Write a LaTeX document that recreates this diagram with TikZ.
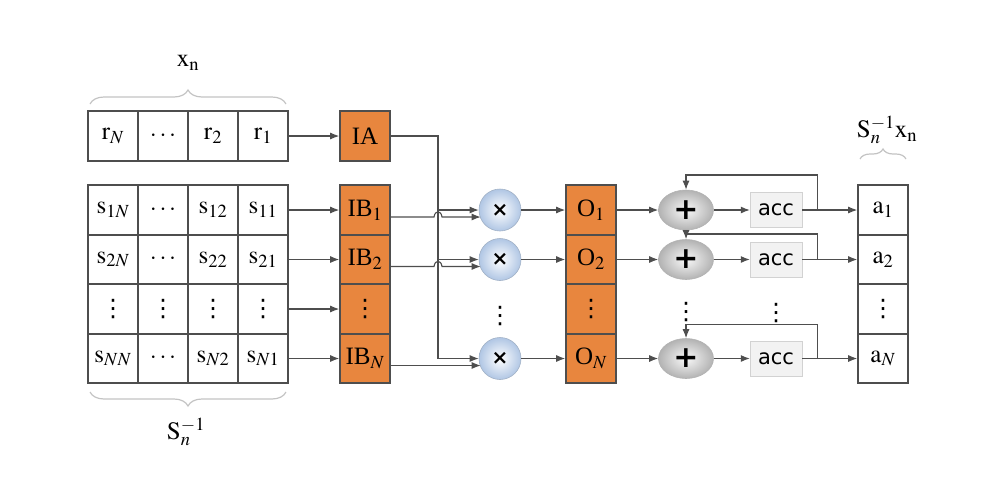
\documentclass[tikz,border=0pt]{standalone}
\usepackage{mathptmx}
\usepackage{fontspec}
\setmainfont{Liberation Serif}
\newfontfamily\accfont{DejaVu Sans}
\usetikzlibrary{calc}
\usetikzlibrary{shapes}
\usetikzlibrary{arrows.meta}
\usetikzlibrary{decorations.pathreplacing}
\definecolor{bufforange}{RGB}{232,134,62}
\definecolor{wiregray}{RGB}{78,78,78}
\definecolor{bracegray}{RGB}{195,195,195}
\definecolor{multblue}{RGB}{176,198,228}
\newcommand{\bigfont}{\fontsize{25}{30}\selectfont}
\newcommand{\gcell}[4]{ \node[gridcell] (#1) at (#2,#3) {#4};}
\newcommand{\bcell}[4]{ \node[buffcell] (#1) at (#2,#3) {#4};}
\newcommand{\vd}{{\accfont\fontsize{24}{24}\selectfont ⋮}}

\tikzset{
  gridcell/.style={draw=wiregray, line width=1.6pt, fill=white, minimum width=50pt,
    minimum height=49.5pt, inner sep=0pt, font=\bigfont},
  buffcell/.style={gridcell, fill=bufforange},
  multnode/.style={circle, minimum size=42pt, inner sep=0pt, draw=multblue!70!gray,
    line width=0.6pt, inner color=white, outer color=multblue,
    font=\accfont\fontsize{20}{24}\selectfont\bfseries},
  addnode/.style={ellipse, minimum width=55pt, minimum height=40pt, inner sep=0pt,
    draw=gray!60, line width=0.6pt, inner color=gray!5, outer color=gray!60,
    font=\accfont\fontsize{30}{30}\selectfont\bfseries},
  accnode/.style={rectangle, minimum width=52pt, minimum height=35pt, inner sep=0pt,
    draw=gray!35, fill=gray!10, font=\accfont\fontsize{21}{24}\selectfont},
  wire/.style={draw=wiregray, line width=1.1pt},
  flow/.style={wire, -{Latex[length=9pt,width=7pt]}},
  capbrace/.style={draw=bracegray, line width=1.2pt, decorate,
    decoration={brace, amplitude=14pt}},
  toplabel/.style={font=\bigfont, inner sep=0pt}
}

\begin{document}
\begin{tikzpicture}[x=1pt,y=-1pt]
    \useasboundingbox (0,0) rectangle (996,498);

    % input vector
    \gcell{rN}{113}{136}{$\mathrm{r}_N$}
    \gcell{rdots}{163}{136}{$\cdots$}
    \gcell{r2}{213}{136}{$\mathrm{r}_2$}
    \gcell{r1}{263}{136}{$\mathrm{r}_1$}

    % matrix, row 1
    \gcell{s1N}{113}{210}{$\mathrm{s}_{1N}$}
    \gcell{s1d}{163}{210}{$\cdots$}
    \gcell{s12}{213}{210}{$\mathrm{s}_{12}$}
    \gcell{s11}{263}{210}{$\mathrm{s}_{11}$}
    % row 2
    \gcell{s2N}{113}{259.5}{$\mathrm{s}_{2N}$}
    \gcell{s2d}{163}{259.5}{$\cdots$}
    \gcell{s22}{213}{259.5}{$\mathrm{s}_{22}$}
    \gcell{s21}{263}{259.5}{$\mathrm{s}_{21}$}
    % row dots
    \gcell{sdN}{113}{309}{\vd}
    \gcell{sdd}{163}{309}{\vd}
    \gcell{sd2}{213}{309}{\vd}
    \gcell{sd1}{263}{309}{\vd}
    % row N
    \gcell{sNN}{113}{358.5}{$\mathrm{s}_{NN}$}
    \gcell{sNd}{163}{358.5}{$\cdots$}
    \gcell{sN2}{213}{358.5}{$\mathrm{s}_{N2}$}
    \gcell{sN1}{263}{358.5}{$\mathrm{s}_{N1}$}

    % braces
    \draw[capbrace] (90,104) -- (286,104);
    \node[toplabel] (xlab) at (188,63) {$\mathrm{x}_\mathrm{n}$};
    \draw[capbrace] (286,392) -- (90,392);
    \node[toplabel] (slab) at (186,432) {$\mathrm{S}_n^{-1}$};

    % input buffers
    \bcell{IA}{365}{136}{IA}
    \bcell{IB1}{365}{210}{IB$_1$}
    \bcell{IB2}{365}{259.5}{IB$_2$}
    \bcell{IBd}{365}{309}{\vd}
    \bcell{IBN}{365}{358.5}{IB$_N$}

    % multipliers
    \node[multnode] (m1) at (500,210) {×};
    \node[multnode] (m2) at (500,259.5) {×};
    \node[multnode] (mN) at (500,358.5) {×};
    \node[toplabel] (mdots) at (500,316) {\vd};

    % output buffer
    \bcell{O1}{591}{210}{O$_1$}
    \bcell{O2}{591}{259.5}{O$_2$}
    \bcell{Od}{591}{309}{\vd}
    \bcell{ON}{591}{358.5}{O$_N$}

    % adders and accumulators
    \node[addnode] (add1) at (686,210) {+};
    \node[addnode] (add2) at (686,259.5) {+};
    \node[addnode] (addN) at (686,358.5) {+};
    \node[accnode] (acc1) at (776,210) {acc};
    \node[accnode] (acc2) at (776,259.5) {acc};
    \node[accnode] (accN) at (776,358.5) {acc};
    \node[toplabel] (adots) at (686,312) {\vd};
    \node[toplabel] (cdots) at (776,313) {\vd};

    % result vector
    \gcell{a1}{883}{210}{$\mathrm{a}_1$}
    \gcell{a2}{883}{259.5}{$\mathrm{a}_2$}
    \gcell{ad}{883}{309}{\vd}
    \gcell{aN}{883}{358.5}{$\mathrm{a}_N$}
    \draw[capbrace, decoration={brace, amplitude=10pt}] (860,159) -- (906,159);
    \node[toplabel] (alab) at (887,130) {$\mathrm{S}_n^{-1}\mathrm{x}_\mathrm{n}$};

    % loading
    \draw[flow] (r1.east) -- (IA.west);
    \draw[flow] (s11.east) -- (IB1.west);
    \draw[flow] (s21.east) -- (IB2.west);
    \draw[flow] (sd1.east) -- (IBd.west);
    \draw[flow] (sN1.east) -- (IBN.west);

    % IA bus
    \coordinate (bus) at (438,136);
    \draw[flow] (IA.east) -- (bus) -- (bus |- mN) -- (mN.west);
    \draw[flow] (bus |- m1) -- (m1.west);
    \draw[flow] (bus |- m2) -- (m2.west);

    % IB lines, hopping over the bus
    \draw[flow] ($(IB1.east)+(0,7)$) -- (434,217) .. controls (435,210) and (441,210) .. (442,217) -- ($(m1.west)+(2,7)$);
    \draw[flow] ($(IB2.east)+(0,7)$) -- (434,266.5) .. controls (435,259.5) and (441,259.5) .. (442,266.5) -- ($(m2.west)+(2,7)$);
    \draw[flow] ($(IBN.east)+(0,7)$) -- ($(mN.west)+(2,7)$);

    % products
    \draw[flow] (m1.east) -- (O1.west);
    \draw[flow] (m2.east) -- (O2.west);
    \draw[flow] (mN.east) -- (ON.west);
    \draw[flow] (O1.east) -- (add1.west);
    \draw[flow] (O2.east) -- (add2.west);
    \draw[flow] (ON.east) -- (addN.west);
    \draw[flow] (add1.east) -- (acc1.west);
    \draw[flow] (add2.east) -- (acc2.west);
    \draw[flow] (addN.east) -- (accN.west);
    \draw[flow] (acc1.east) -- (a1.west);
    \draw[flow] (acc2.east) -- (a2.west);
    \draw[flow] (accN.east) -- (aN.west);

    % feedback
    \coordinate (fb1) at ($(acc1.east)+(15,0)$);
    \coordinate (fb2) at ($(acc2.east)+(15,0)$);
    \coordinate (fbN) at ($(accN.east)+(15,0)$);
    \draw[flow] (fb1) -- ++(0,-35) -| (add1.north);
    \draw[flow] (fb2) -- ++(0,-25.5) -| (add2.north);
    \draw[flow] (fbN) -- ++(0,-34) -| (addN.north);
\end{tikzpicture}
\end{document}
